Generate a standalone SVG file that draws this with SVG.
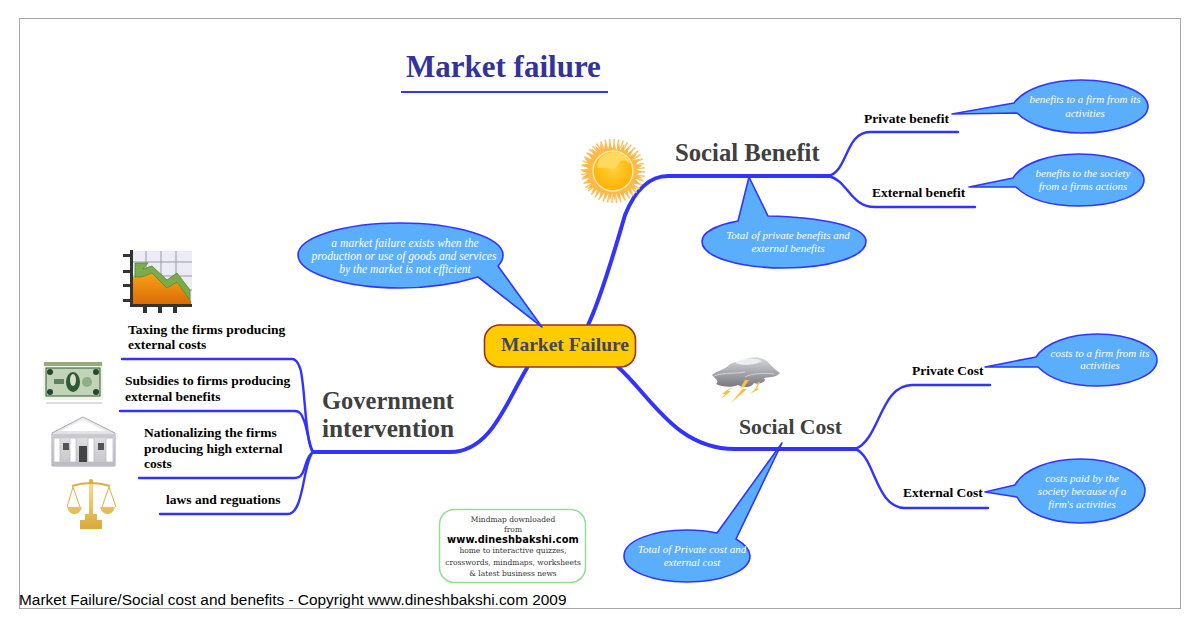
<svg xmlns="http://www.w3.org/2000/svg" width="1200" height="628" viewBox="0 0 1200 628">
<style>
text{font-family:"Liberation Serif","Times New Roman",serif}
.b{fill:none;stroke:#3333ff;stroke-linecap:round;stroke-linejoin:round}
.m{stroke-width:4}.s{stroke-width:2.400}
.c{fill:#5aaefb;stroke:#3333ff;stroke-width:1.600;stroke-linejoin:round}
.ct{fill:#fff;font-style:italic;font-size:11px;text-anchor:middle}
.l{fill:#000;font-weight:bold;font-size:13.500px}
.h{fill:#404040;font-weight:bold;font-size:25px}
.ad{fill:#333;font-size:7.500px;text-anchor:middle;font-family:"DejaVu Serif",serif}
</style>
<defs>
<radialGradient id="sun" cx="0.5" cy="0.4" r="0.6"><stop offset="0" stop-color="#ffd23c"/><stop offset="1" stop-color="#ffb000"/></radialGradient>
<linearGradient id="or" x1="0" y1="0" x2="0" y2="1"><stop offset="0" stop-color="#f9a019"/><stop offset="1" stop-color="#d96d05"/></linearGradient>
<linearGradient id="gold" x1="0" y1="0" x2="0" y2="1"><stop offset="0" stop-color="#f6dc8c"/><stop offset="1" stop-color="#d9a93a"/></linearGradient>
<linearGradient id="cl" x1="0" y1="0" x2="0" y2="1"><stop offset="0" stop-color="#d8d8dc"/><stop offset="1" stop-color="#77797f"/></linearGradient>
<linearGradient id="bk" x1="0" y1="0" x2="0" y2="1"><stop offset="0" stop-color="#f2f2f4"/><stop offset="1" stop-color="#c4c4ca"/></linearGradient>
</defs>
<rect width="1200" height="628" fill="#fff"/>
<rect x="19.500" y="18.500" width="1161" height="590" fill="#fff" stroke="#a8a8a8" stroke-width="1"/>
<g id="title">
<text x="406" y="77" font-size="31" font-weight="bold" fill="#333399">Market failure</text>
<path d="M401 92H608" stroke="#3333ff" stroke-width="2"/>
</g>
<g id="connectors">
<path class="b m" d="M588 325C600 300 612 260 625 215C635 190 650 176 668 176H830"/>
<path class="b s" d="M828 176C848 172 845 132 870 132H958"/>
<path class="b s" d="M828 176C848 180 850 207 875 207H975"/>
<path class="b m" d="M618 367C650 395 675 449 735 449H855"/>
<path class="b s" d="M855 449C880 440 880 385 912 385H990"/>
<path class="b s" d="M855 449C875 455 875 508 905 508H988"/>
<path class="b m" d="M527 368C505 405 490 452 450 452H313"/>
<path class="b s" d="M313 452C305 445 305 380 300 368C298 362 296 359 292 359H122"/>
<path class="b s" d="M313 452C307 440 307 420 300 413Q298 411 295 411H120"/>
<path class="b s" d="M313 452C303 458 307 478 295 478H139"/>
<path class="b s" d="M313 452C303 462 304 514 288 514H160"/>
</g>
<g id="sun-icon">
<circle cx="613" cy="171" r="28" fill="none" stroke="#fdc466" stroke-width="8" stroke-dasharray="1.500 2.500"/>
<g transform="translate(613 171) scale(.8) translate(-611 -174)">
<path fill="#fdb84a" d="M613 139l2 9 4-9 1 9 5-8 0 9 6-6-2 9 7-5-3 8 8-3-5 8 9-1-6 7 9 1-8 5 9 3-9 3 8 5-9 1 6 7-9-1 5 8-8-3 3 8-7-5 2 9-6-6 0 9-5-8-1 9-4-9-2 9-3-9-3 9-2-9-4 8-1-9-5 8 0-9-6 6 2-9-7 5 3-8-8 3 5-8-9 1 6-7-9-1 8-5-9-3 9-3-8-5 9-1-6-7 9 1-5-8 8 3-3-8 7 5-2-9 6 6 0-9 5 8 1-9 4 8 2-9 3 9z"/>
</g>
<circle cx="613" cy="171" r="20" fill="url(#sun)" stroke="#ffe9a8" stroke-width="1.500"/>
<path d="M597 168C597 157 606 152 614 152C622 152 628 157 630 164C624 158 620 160 618 165C616 171 610 168 604 168Z" fill="#ffd860"/>
</g>
<g id="storm-icon">
<path fill="url(#cl)" d="M712 375C716 371 724 370 728 366C732 361 740 362 743 361C747 357 757 356 763 359C769 361 772 368 780 373C776 378 768 377 764 378C768 382 758 385 754 383C750 389 742 387 738 385C732 388 722 387 716 384C720 380 714 378 712 375Z"/>
<path fill="#eceef0" d="M735 363C742 358 755 357 762 361C757 365 742 366 735 363Z"/>
<path fill="none" stroke="#fff" stroke-opacity=".5" stroke-width="1" d="M714 376C725 372 735 374 745 372M745 377C752 373 765 373 774 374"/>
<path fill="#fbbe3d" d="M745 380l-5 8 4-1-13 16 16-14-4 0 6-9zM730 388l-8 6 3 0-4 5 10-8-3 0 3-3zM758 382l-2 6-6 6 9-5-2-1 3-6z"/>
</g>
<g id="chart-icon">
<rect x="133" y="251" width="59" height="56" fill="#ececf6"/>
<path stroke="#9a9aa6" stroke-width="1" fill="none" d="M133 262H192M133 276H192M133 290H192M146 251V306M161 251V306M176 251V306"/>
<path fill="url(#or)" d="M133 277H142L152 273L167 288L177 282L191 301V304H133Z"/>
<path fill="#7cab4a" stroke="#4f8a2a" stroke-width=".8" d="M135 263H148L143 269L152 266L167 280L177 273L190 290L190 300L177 282L167 288L152 273L142 277L135 277Z"/>
<path fill="#333" d="M130 250h3v54h59v3h-62zM123 254h7v3h-7zM123 270h7v3h-7zM123 284h7v3h-7zM123 299h7v3h-7zM143 307h4v6h-4zM158 307h4v6h-4zM173 307h4v6h-4z"/>
</g>
<g id="money-icon">
<rect x="43" y="362" width="60" height="38" rx="2" fill="#f1f3e6"/>
<rect x="44" y="362" width="58" height="4" fill="#98aa78"/>
<rect x="46" y="368" width="54" height="28" fill="#c3d3b8" stroke="#2f5a36"/>
<ellipse cx="73" cy="382" rx="7" ry="10" fill="#2f5a36"/>
<ellipse cx="73" cy="380" rx="3" ry="6" fill="#d8e0cc"/>
<circle cx="87" cy="382" r="5" fill="#8fae88"/>
<rect x="54" y="379" width="10" height="5" fill="#5d8262"/>
<circle cx="50" cy="372" r="3" fill="#24482b"/><circle cx="96" cy="372" r="3" fill="#24482b"/><circle cx="50" cy="392" r="3" fill="#24482b"/><circle cx="96" cy="392" r="3" fill="#24482b"/>
<rect x="46" y="402" width="56" height="2" fill="#ddd"/>
</g>
<g id="bank-icon">
<path fill="url(#bk)" stroke="#a8a8b0" d="M52 433L83 417L115 433V466H52Z"/>
<path fill="#fff" d="M60 431L83 420L106 431Z"/>
<rect x="52" y="434" width="63" height="4" fill="#c9c9cf"/>
<path fill="#fff" stroke="#b8b8c0" stroke-width=".7" d="M54 438h6v24h-6zM70 438h6v24h-6zM88 438h6v24h-6zM106 438h7v24h-7z"/>
<rect x="63" y="443" width="6" height="7" fill="#555"/><rect x="98" y="443" width="6" height="7" fill="#555"/>
<rect x="79" y="446" width="8" height="16" fill="#444"/>
<rect x="52" y="462" width="63" height="4" fill="#bdbdc3"/>
</g>
<g id="scales-icon">
<path fill="none" stroke="#dcae3f" stroke-width="1" d="M73 487L67 507M73 487L80 507M109 487L102 507M109 487L116 507"/>
<path fill="none" stroke="#dcae3f" stroke-width="2" d="M72 486Q91 480 110 486"/>
<path fill="url(#gold)" d="M67 507h15q-2 7-7.500 7t-7.500-7zM100 507h15q-2 7-7.500 7t-7.500-7zM89 484h4v39h-4zM80 520h22v9h-22zM85 514h12v6h-12z"/>
<circle cx="91" cy="481" r="2" fill="#dcae3f"/>
</g>
<g id="central">
<rect x="484.500" y="325" width="151" height="42" rx="15" fill="#ffcc00" stroke="#993311" stroke-width="1.600"/>
<text x="501" y="351" font-size="19.500" font-weight="bold" fill="#44445a">Market Failure</text>
</g>
<g id="social-benefit">
<text class="h" x="675" y="161" style="font-size:24.700px">Social Benefit</text>
<path class="c" d="M749 177L768 216C820 217 866 226 866 241.500C866 257 829 268 784 268C739 268 702 257 702 241.500C702 232 717 225 738 221Z"/>
<text class="ct"><tspan x="788" y="239">Total of private benefits and</tspan><tspan x="788" y="252">external benefits</tspan></text>
</g>
<g id="private-benefit">
<text class="l" x="864" y="123">Private benefit</text>
<path class="c" d="M952 114L1014 103C1024 89 1050 80 1081 80C1118 80 1148 92 1148 106.500C1148 121 1118 133 1081 133C1055 133 1030 126 1017 113Z"/>
<text class="ct"><tspan x="1085" y="103">benefits to a firm from its</tspan><tspan x="1085" y="117">activities</tspan></text>
</g>
<g id="external-benefit">
<text class="l" x="872" y="197">External benefit</text>
<path class="c" d="M969 187L1013 178C1022 163 1050 154 1079 154C1115 154 1144 166 1144 180C1144 195 1115 206 1079 206C1050 206 1028 199 1016 187Z"/>
<text class="ct"><tspan x="1083" y="177">benefits to the society</tspan><tspan x="1083" y="190">from a firms actions</tspan></text>
</g>
<g id="social-cost">
<text class="h" x="739" y="434" style="font-size:21.700px">Social Cost</text>
<path class="c" d="M782 443L736 539C746 545 750 550 750 556C750 571 722 582 687 582C652 582 624 571 624 556C624 541 652 530 687 530C698 530 708 531 717 533Z"/>
<text class="ct"><tspan x="692" y="553">Total of Private cost and</tspan><tspan x="692" y="566">external cost</tspan></text>
</g>
<g id="private-cost">
<text class="l" x="912" y="375">Private Cost</text>
<path class="c" d="M985 367L1036 357C1045 343 1070 334 1097 334C1130 334 1157 346 1157 360C1157 375 1130 386 1097 386C1070 386 1050 379 1038 367Z"/>
<text class="ct"><tspan x="1100" y="357">costs to a firm from its</tspan><tspan x="1100" y="369">activities</tspan></text>
</g>
<g id="external-cost">
<text class="l" x="903" y="497">External Cost</text>
<path class="c" d="M985 492L1015 485C1024 469 1050 459 1080 459C1115 459 1145 473 1145 491C1145 509 1115 523 1080 523C1050 523 1025 513 1017 497Z"/>
<text class="ct"><tspan x="1082" y="482">costs paid by the</tspan><tspan x="1082" y="495">society because of a</tspan><tspan x="1082" y="508">firm's activities</tspan></text>
</g>
<g id="government-intervention">
<text class="h" x="322" y="409" style="font-size:24.500px">Government</text>
<text class="h" x="322" y="437" style="font-size:25.300px">intervention</text>
</g>
<g id="definition">
<path class="c" d="M542 327L478 277C455 284 430 288 400 288C345 288 298 273 298 255C298 237 345 223 400 223C455 223 503 237 503 255C503 259 501 263 498 266Z"/>
<text class="ct" style="font-size:11.600px"><tspan x="405" y="247">a market failure exists when the</tspan><tspan x="404" y="260">production or use of goods and services</tspan><tspan x="405" y="273">by the market is not efficient</tspan></text>
</g>
<g id="taxing">
<text class="l" x="128" y="334">Taxing the firms producing</text>
<text class="l" x="128" y="349">external costs</text>
</g>
<g id="subsidies">
<text class="l" x="125" y="385">Subsidies to firms producing</text>
<text class="l" x="125" y="401">external benefits</text>
</g>
<g id="nationalizing">
<text class="l" x="144" y="437">Nationalizing the firms</text>
<text class="l" x="144" y="453">producing high external</text>
<text class="l" x="144" y="468">costs</text>
</g>
<g id="laws">
<text class="l" x="166" y="504">laws and reguations</text>
</g>
<g id="download-note">
<rect x="439.500" y="509.500" width="146" height="73" rx="15" fill="#fff" stroke="#90e090" stroke-width="1.500"/>
<text class="ad" x="513" y="522">Mindmap downloaded</text>
<text class="ad" x="513" y="532">from</text>
<text x="513" y="543" font-size="9.800" font-weight="bold" text-anchor="middle" letter-spacing=".1" style="font-family:'DejaVu Sans',sans-serif" fill="#000">www.dineshbakshi.com</text>
<text class="ad" x="513" y="553">home to interactive quizzes,</text>
<text class="ad" x="513" y="565">crosswords, mindmaps, worksheets</text>
<text class="ad" x="513" y="576">&amp; latest business news</text>
</g>
<g id="footer">
<text x="19" y="605" font-size="15.400" fill="#000" style="font-family:'Liberation Sans',Arial,sans-serif">Market Failure/Social cost and benefits - Copyright www.dineshbakshi.com 2009</text>
</g>
</svg>
